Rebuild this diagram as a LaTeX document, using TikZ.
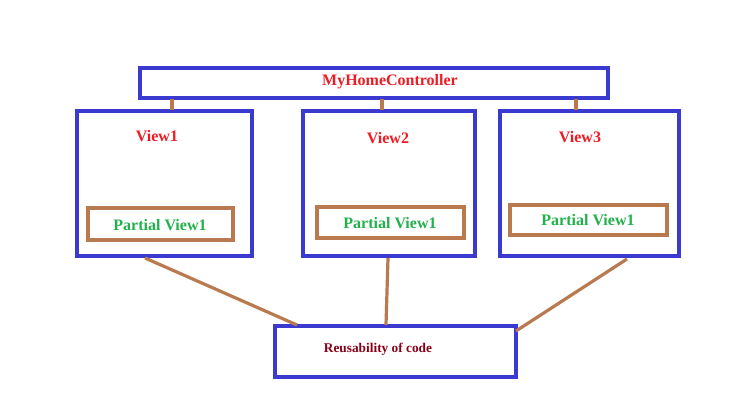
\documentclass[tikz,border=0pt]{standalone}
\usepackage{fontspec}
\setmainfont{Liberation Serif}
\definecolor{bl}{HTML}{3A3AD0}
\definecolor{br}{HTML}{B97A50}
\definecolor{gr}{HTML}{22B14C}
\definecolor{rd}{HTML}{ED1C24}
\definecolor{dr}{HTML}{880015}
\begin{document}
\begin{tikzpicture}[x=0.75pt,y=-0.75pt,
  bbox/.style={draw=bl,line width=2.4pt},
  conn/.style={draw=br,line width=2.4pt},
  pbox/.style={draw=br,line width=2.4pt},
  lbl/.style={font=\bfseries\fontsize{12}{14}\selectfont}]
\useasboundingbox (0,0) rectangle (743,413);
\draw[bbox] (140,68) rectangle (608,98);
\node[lbl,text=rd] (c) at (390,82) {MyHomeController};
\draw[bbox] (77,111) rectangle (252,256);
\draw[bbox] (303,111) rectangle (475,256);
\draw[bbox] (500,111) rectangle (679,256);
\node[lbl,text=rd] (v1) at (157,136) {View1};
\node[lbl,text=rd] (v2) at (388,138) {View2};
\node[lbl,text=rd] (v3) at (580,137) {View3};
\draw[pbox] (88,208) rectangle (233,240);
\draw[pbox] (317,207) rectangle (464,238);
\draw[pbox] (510,205) rectangle (667,235);
\node[lbl,text=gr] (p1) at (160,225) {Partial View1};
\node[lbl,text=gr] (p2) at (390,223) {Partial View1};
\node[lbl,text=gr] (p3) at (588,220) {Partial View1};
\draw[bbox] (275,326) rectangle (516,377);
\node[font=\bfseries\fontsize{10}{12}\selectfont,text=dr] (r) at (378,349) {Reusability of code};
\coordinate (a1) at (172,99); \coordinate (b1) at (172,110);
\coordinate (a2) at (382,99); \coordinate (b2) at (382,110);
\coordinate (a3) at (576,99); \coordinate (b3) at (576,110);
\draw[conn] (a1)--(b1); \draw[conn] (a2)--(b2); \draw[conn] (a3)--(b3);
\coordinate (s1) at (145,258); \coordinate (t1) at (297,325);
\coordinate (s2) at (388,258); \coordinate (t2) at (386,325);
\coordinate (s3) at (627,259); \coordinate (t3) at (516,331);
\draw[conn] (s1)--(t1); \draw[conn] (s2)--(t2); \draw[conn] (s3)--(t3);
\end{tikzpicture}
\end{document}
